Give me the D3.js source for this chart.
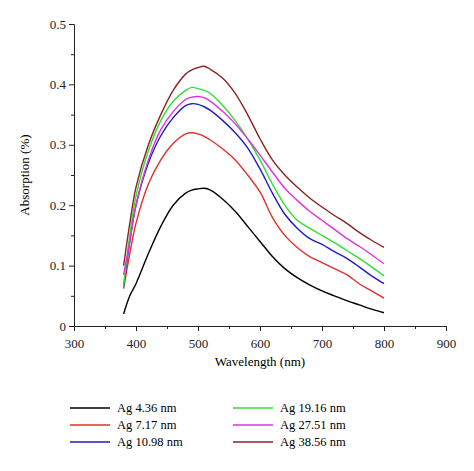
<!DOCTYPE html><html><head><script src="https://cdn.jsdelivr.net/npm/d3@7"></script>
<style>body{margin:0;background:#fff}text{font-family:"Liberation Serif",serif}</style></head><body><svg id="c" width="474" height="471"></svg>
<script>
const wl=[380,390,400,420,440,460,480,490,500,510,520,540,560,580,600,620,640,660,680,700,720,740,760,780,800];
const names=["Ag 4.36 nm","Ag 7.17 nm","Ag 10.98 nm","Ag 19.16 nm","Ag 27.51 nm","Ag 38.56 nm"];
const colors=["#000000","#e0302a","#1c1cc8","#33dd33","#e033e0","#8b2222"];
const s1=[0.02,0.05,0.07,0.12,0.165,0.2,0.22,0.225,0.227,0.228,0.225,0.21,0.19,0.165,0.14,0.115,0.095,0.08,0.068,0.058,0.05,0.042,0.035,0.028,0.022];
const s2=[0.062,0.12,0.17,0.235,0.275,0.302,0.318,0.32,0.318,0.314,0.308,0.293,0.275,0.25,0.222,0.18,0.15,0.13,0.115,0.105,0.095,0.085,0.07,0.058,0.046];
const s3=[0.065,0.14,0.2,0.27,0.315,0.345,0.365,0.368,0.367,0.363,0.357,0.34,0.32,0.295,0.26,0.22,0.185,0.162,0.145,0.135,0.123,0.112,0.098,0.083,0.07];
const s4=[0.065,0.15,0.215,0.29,0.34,0.372,0.39,0.395,0.393,0.39,0.385,0.365,0.34,0.31,0.275,0.235,0.2,0.175,0.162,0.15,0.138,0.125,0.112,0.098,0.083];
const s5=[0.085,0.14,0.2,0.275,0.325,0.355,0.375,0.379,0.38,0.378,0.372,0.355,0.335,0.31,0.283,0.255,0.228,0.208,0.19,0.175,0.16,0.145,0.132,0.118,0.103];
const s6=[0.1,0.17,0.23,0.3,0.35,0.39,0.417,0.424,0.428,0.43,0.425,0.41,0.385,0.35,0.31,0.275,0.25,0.23,0.212,0.197,0.183,0.17,0.155,0.142,0.13];
const series=[s1,s2,s3,s4,s5,s6];
const svg=d3.select("#c");
const x=d3.scaleLinear().domain([300,900]).range([74,446]);
const y=d3.scaleLinear().domain([0,0.5]).range([326,24]);
const ax=svg.append("g").attr("transform","translate(0,326)").call(d3.axisBottom(x).tickValues([300,400,500,600,700,800,900]).tickSize(5).tickFormat(d3.format("d")));
svg.append("g").attr("transform","translate(0,326)").call(d3.axisBottom(x).tickValues([350,450,550,650,750,850]).tickSize(3).tickFormat("")).select(".domain").remove();
const ay=svg.append("g").attr("transform","translate(74,0)").call(d3.axisLeft(y).tickValues([0,0.1,0.2,0.3,0.4,0.5]).tickSize(5).tickFormat(d=>d===0?"0":d3.format(".1f")(d)));
svg.append("g").attr("transform","translate(74,0)").call(d3.axisLeft(y).tickValues([0.05,0.15,0.25,0.35,0.45]).tickSize(3).tickFormat("")).select(".domain").remove();
svg.selectAll(".tick text").attr("font-size",13).attr("font-family","Liberation Serif").attr("fill","#222");
ax.selectAll(".tick text").attr("dy","1.1em");
svg.selectAll(".domain,.tick line").attr("stroke","#222");
svg.append("text").attr("x",260).attr("y",366).attr("text-anchor","middle").attr("font-size",13).text("Wavelength (nm)");
svg.append("text").attr("transform","translate(29,175) rotate(-90)").attr("text-anchor","middle").attr("font-size",13).text("Absorption (%)");
const line=d3.line().x((d,i)=>x(wl[i])).y(d=>y(d)).curve(d3.curveCatmullRom);
series.forEach((s,i)=>svg.append("path").attr("d",line(s)).attr("fill","none").attr("stroke",colors[i]).attr("stroke-width",1.4));
const lg=svg.append("g");
names.forEach((n,i)=>{const c=Math.floor(i/3),r=i%3;const x0=c?233:70,yy=408+r*17;
lg.append("line").attr("x1",x0).attr("x2",x0+40).attr("y1",yy).attr("y2",yy).attr("stroke",colors[i]).attr("stroke-width",1.4);
lg.append("text").attr("x",x0+47).attr("y",yy+4).attr("font-size",12.5).text(n);});
</script></body></html>
